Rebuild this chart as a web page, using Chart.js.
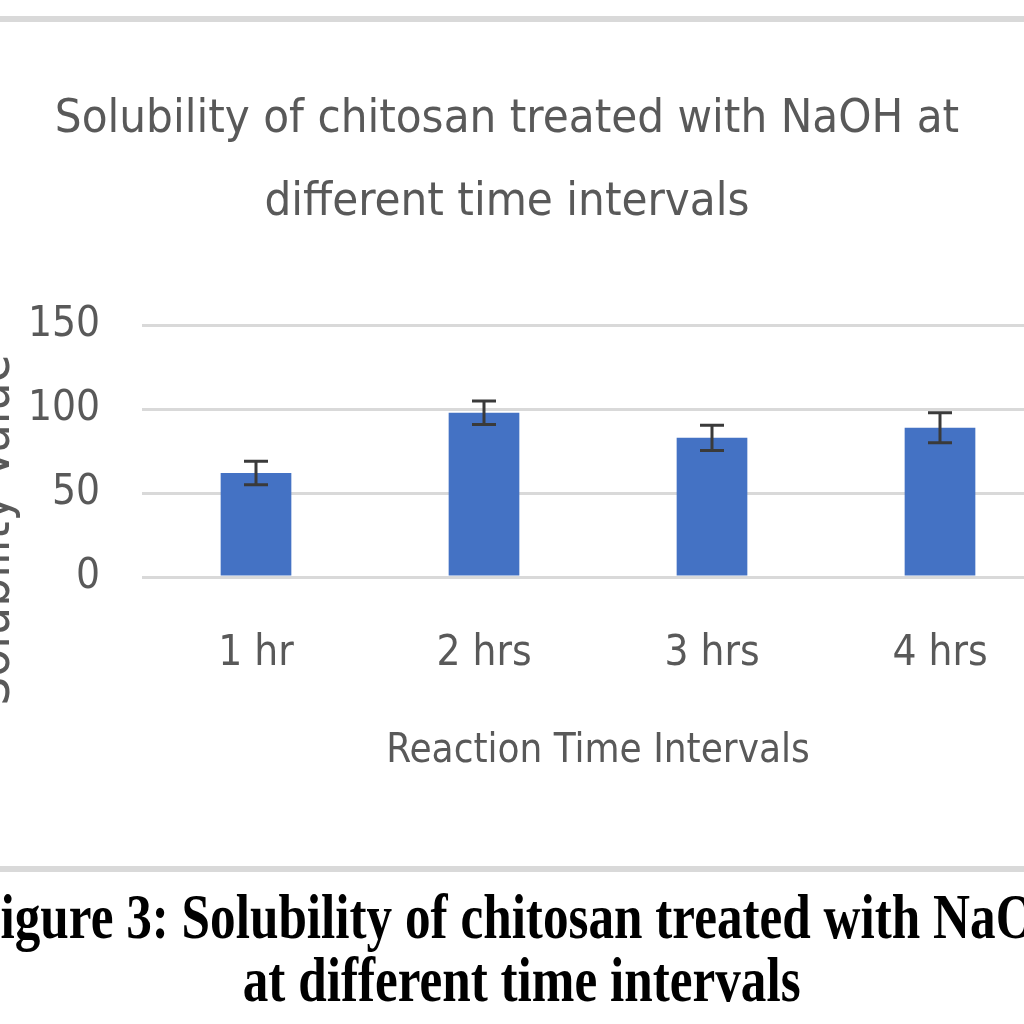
<!DOCTYPE html>
<html>
<head>
<meta charset="utf-8">
<script src="https://cdn.jsdelivr.net/npm/chart.js@4.4.0/dist/chart.umd.min.js"></script>
<style>
  html, body { margin: 0; padding: 0; width: 1024px; height: 1024px; overflow: hidden; background: #fff; }
  #frame { position: absolute; left: -20px; top: 16px; width: 1064px; height: 844px;
           border-top: 6px solid #d9d9d9; border-bottom: 6px solid #d9d9d9; }
  #wrap { position: absolute; left: -40px; top: 0; width: 1140px; height: 840px; }
  .cap { position: absolute; left: -496px; width: 2036px; text-align: center; white-space: nowrap;
         font-family: "Liberation Serif", "Times New Roman", serif; font-weight: bold;
         font-size: 64px; line-height: 64px; color: #000; }
  .cap span { display: inline-block; transform: scaleX(0.8); }
</style>
</head>
<body>
<div id="frame"></div>
<div id="wrap"><canvas id="chart"></canvas></div>
<div class="cap" style="top:885px"><span>Figure 3: Solubility of chitosan treated with NaOH</span></div>
<div class="cap" style="top:948px"><span>at different time intervals</span></div>

<script>
const categories = ["1 hr", "2 hrs", "3 hrs", "4 hrs"];
const solubility = [62, 98, 83, 89];
const errors = [7, 7, 7.5, 9];
const yTicks = [0, 50, 100, 150];

const FONT = '"DejaVu Sans Condensed", "Liberation Sans", sans-serif';
const GREY = "#595959";

// error bars drawn from the y scale
const errorBars = {
  id: "errorBars",
  afterDatasetsDraw(chart) {
    const ctx = chart.ctx;
    const y = chart.scales.y;
    const meta = chart.getDatasetMeta(0);
    ctx.save();
    ctx.strokeStyle = "#3a3a3a";
    ctx.lineWidth = 3;
    meta.data.forEach((bar, i) => {
      const top = y.getPixelForValue(solubility[i] + errors[i]);
      const bot = y.getPixelForValue(solubility[i] - errors[i]);
      ctx.beginPath();
      ctx.moveTo(bar.x, top); ctx.lineTo(bar.x, bot);
      ctx.moveTo(bar.x - 12, top); ctx.lineTo(bar.x + 12, top);
      ctx.moveTo(bar.x - 12, bot); ctx.lineTo(bar.x + 12, bot);
      ctx.stroke();
    });
    ctx.restore();
  }
};

// y axis title sits lower than the plot centre and is cut by the frame
const yTitle = {
  id: "yTitle",
  afterDraw(chart) {
    const ctx = chart.ctx;
    ctx.save();
    ctx.translate(49, 530);
    ctx.rotate(-Math.PI / 2);
    ctx.font = "51px " + FONT;
    ctx.fillStyle = GREY;
    ctx.textAlign = "center";
    ctx.textBaseline = "alphabetic";
    ctx.fillText("Solubility Value", 0, 0);
    ctx.restore();
  }
};

new Chart(document.getElementById("chart"), {
  type: "bar",
  data: {
    labels: categories,
    datasets: [{
      data: solubility,
      backgroundColor: "#4472C4",
      barPercentage: 0.31,
      categoryPercentage: 1
    }]
  },
  options: {
    responsive: true,
    maintainAspectRatio: false,
    animation: false,
    layout: { padding: { left: 0, right: 46, top: 0, bottom: 64 } },
    plugins: {
      legend: { display: false },
      tooltip: { enabled: false },
      title: {
        display: true,
        text: ["Solubility of chitosan treated with NaOH at", "different time intervals"],
        color: GREY,
        font: { family: FONT, size: 47, weight: "normal", lineHeight: 1.75 },
        padding: { top: 79, bottom: 82 }
      }
    },
    scales: {
      x: {
        grid: { display: false, drawTicks: false },
        border: { display: false },
        ticks: { color: GREY, font: { family: FONT, size: 42 }, padding: 52 },
        title: { display: true, text: "Reaction Time Intervals", color: GREY,
                 font: { family: FONT, size: 40 }, padding: 0 },
        afterFit(s) { s.height = 199; }
      },
      y: {
        min: 0, max: 150,
        afterBuildTicks(s) { s.ticks = yTicks.map(v => ({ value: v })); },
        ticks: { color: GREY, font: { family: FONT, size: 42 }, padding: 42 },
        grid: { color: "#d9d9d9", lineWidth: 3, drawTicks: false },
        border: { display: false },
        afterFit(s) { s.width = 182; }
      }
    }
  },
  plugins: [errorBars, yTitle]
});
</script>
</body>
</html>
